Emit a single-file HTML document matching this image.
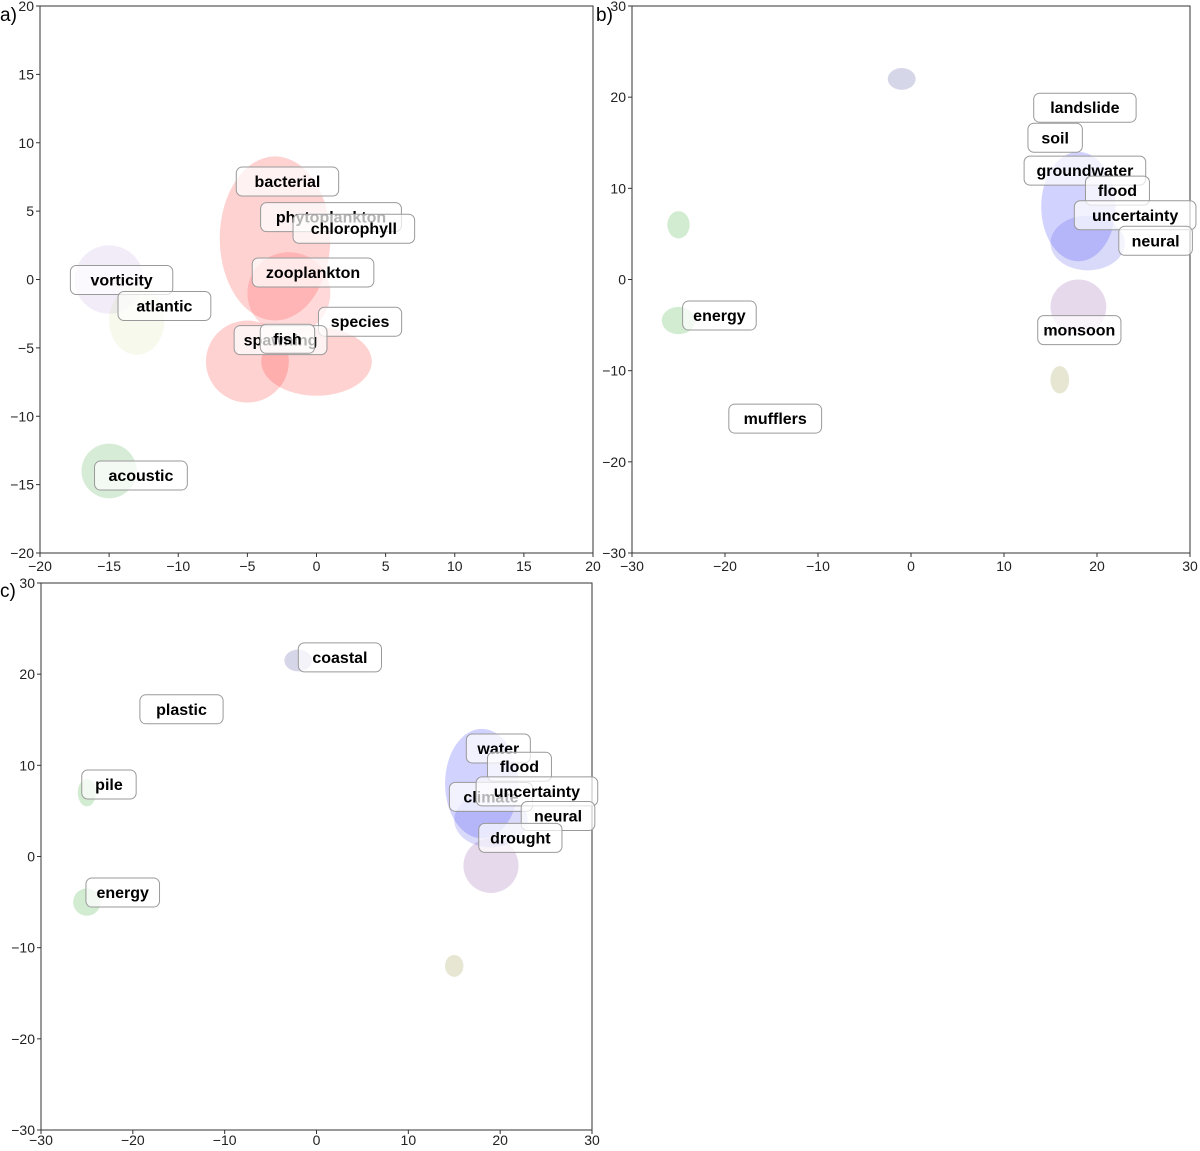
<!DOCTYPE html>
<html><head><meta charset="utf-8"><style>
body{margin:0;background:#fff;}
svg text{font-family:"Liberation Sans","DejaVu Sans",sans-serif;}
</style></head><body>
<svg id="fig" width="1200" height="1146" viewBox="0 0 1200 1146" xmlns="http://www.w3.org/2000/svg">
<text x="0" y="21" font-size="19">a)</text>
<text x="596" y="21" font-size="19">b)</text>
<text x="0" y="597" font-size="19">c)</text>
</svg>
<script>
// Panel a
const aTicks = [-20,-15,-10,-5,0,5,10,15,20];
const aLabels = ["bacterial","phytoplankton","chlorophyll","zooplankton","vorticity","atlantic","species","spawning","fish","acoustic"];
const aLabX = [-2.1,1.05,2.7,-0.25,-14.1,-11.0,3.15,-2.6,-2.1,-12.7];
const aLabY = [7.2,4.6,3.75,0.55,0.0,-1.9,-3.05,-4.4,-4.3,-14.3];
const aClX = [-3,-5,0,-2,-15,-13,-15];
const aClY = [3,-6,-6,-1,0,-3,-14];
const aClRX = [4,3,4,3,2.5,2,2];
const aClRY = [6,3,2.5,3,2.5,2.5,2];
const aClCol = ["#ff2020","#ff2020","#ff2020","#ff4040","#c0a0e0","#d0e0a0","#30a030"];
// Panel b
const bTicks = [-30,-20,-10,0,10,20,30];
const bLabels = ["landslide","soil","groundwater","flood","uncertainty","neural","energy","monsoon","mufflers"];
const bLabX = [18.7,15.5,18.7,22.2,24.1,26.3,-20.6,18.1,-14.6];
const bLabY = [18.9,15.6,12.0,9.8,7.1,4.3,-3.9,-5.5,-15.2];
const bClX = [18,19,18,-25,-25,-1,16];
const bClY = [8,4,-3,6,-4.5,22,-11];
const bClRX = [4,4,3,1.2,1.8,1.5,1];
const bClRY = [6,3,3,1.5,1.5,1.2,1.5];
const bClCol = ["#2020ff","#4040e0","#8040a0","#20a020","#20a020","#303090","#808020"];
// Panel c
const cTicks = [-30,-20,-10,0,10,20,30];
const cLabels = ["coastal","plastic","pile","energy","water","flood","climate","uncertainty","neural","drought"];
const cLabX = [2.55,-14.7,-22.6,-21.1,19.8,22.1,19.0,24.0,26.3,22.2];
const cLabY = [21.9,16.2,7.95,-3.9,11.9,9.9,6.6,7.2,4.5,2.1];
const cClX = [18,19,19,-25,-25,-2,15];
const cClY = [8,4,-1,7,-5,21.5,-12];
const cClRX = [4,4,3,1,1.5,1.5,1];
const cClRY = [6,3,3,1.5,1.5,1.2,1.2];
const cClCol = ["#2020ff","#4040e0","#8040a0","#20a020","#20a020","#303090","#808020"];

const NS="http://www.w3.org/2000/svg";
const svg=document.getElementById('fig');
function mk(t,a,p){const e=document.createElementNS(NS,t);for(const k in a)e.setAttribute(k,a[k]);(p||svg).appendChild(e);return e;}

function panel(id,L,R,T,B,ticks,labels,lx,ly,cx,cy,crx,cry,ccol,tOff){
  const lo=ticks[0],hi=ticks[ticks.length-1];
  const sx=v=>L+(v-lo)/(hi-lo)*(R-L);
  const sy=v=>B-(v-lo)/(hi-lo)*(B-T);
  const g=mk('g',{});
  
  
  for(let i=0;i<cx.length;i++){
    const e=mk('ellipse',{cx:sx(cx[i]),cy:sy(cy[i]),rx:Math.abs(sx(cx[i]+crx[i])-sx(cx[i])),ry:Math.abs(sy(cy[i]+cry[i])-sy(cy[i])),fill:ccol[i],'fill-opacity':0.2},g);
    
    
  }
  const fr=mk('rect',{x:L,y:T,width:R-L,height:B-T,fill:'none',stroke:'#333','stroke-width':1},g);
  
  
  ticks.forEach(t=>{
    mk('line',{x1:sx(t),x2:sx(t),y1:B,y2:B+4,stroke:'#333'},g);
    const tx=mk('text',{x:sx(t),y:B+tOff,'font-size':14,'text-anchor':'middle',fill:'#222'},g);
    tx.textContent=(t<0?'\u2212'+(-t):t);
    
    
    mk('line',{x1:L-4,x2:L,y1:sy(t),y2:sy(t),stroke:'#333'},g);
    const ty=mk('text',{x:L-6,y:sy(t)+5,'font-size':14,'text-anchor':'end',fill:'#222'},g);
    ty.textContent=(t<0?'\u2212'+(-t):t);
    
    
  });
  labels.forEach((s,i)=>{
    const x=sx(lx[i]),y=sy(ly[i]);
    const w=s.length*9.6+16;
    const lg=mk('g',{},g);
    
    
    mk('rect',{x:x-w/2,y:y-14,width:w,height:29,rx:6,fill:'#fff','fill-opacity':0.7,stroke:'#999','stroke-width':1},lg);
    const t=mk('text',{x:x,y:y+6,'font-size':16,'font-weight':'bold','text-anchor':'middle',fill:'#000'},lg);
    t.textContent=s;
  });
}
panel('panel-a',40,593,6,553,aTicks,aLabels,aLabX,aLabY,aClX,aClY,aClRX,aClRY,aClCol,18);
panel('panel-b',632,1190,6,553,bTicks,bLabels,bLabX,bLabY,bClX,bClY,bClRX,bClRY,bClCol,18);
panel('panel-c',41,592,583,1130,cTicks,cLabels,cLabX,cLabY,cClX,cClY,cClRX,cClRY,cClCol,15);
</script>
</body></html>
